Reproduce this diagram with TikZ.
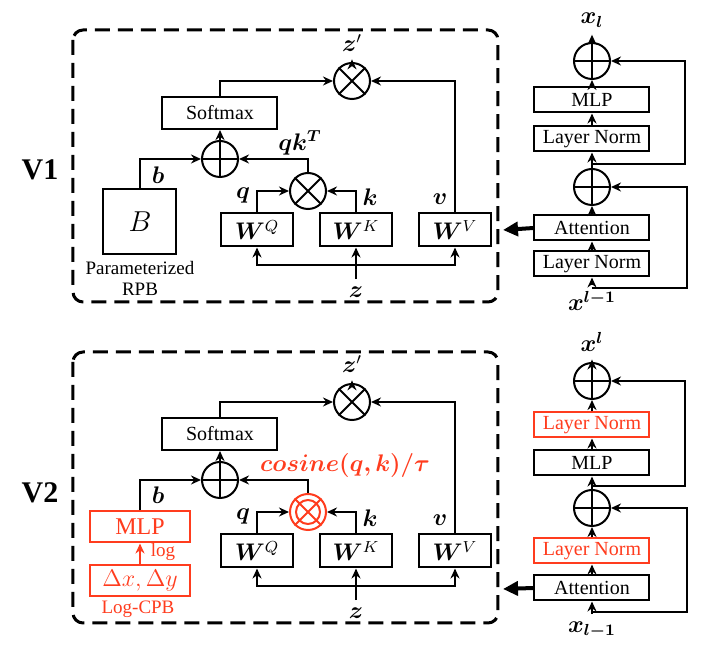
\documentclass[tikz,border=0pt]{standalone}
\usepackage{fontspec}
\setmainfont{Liberation Serif}
\usepackage{bm}
\usetikzlibrary{arrows.meta,calc}
\definecolor{rojoV}{HTML}{FF3C1E}

\begin{document}
\begin{tikzpicture}[x=0.5pt,y=-0.5pt,>={Stealth[length=5pt,width=4.5pt]},
    line width=0.9pt,
    frame/.style={line width=1.5pt,dash pattern=on 7.5pt off 4pt,rounded corners=5pt},
    blk/.style={draw,line width=1pt,inner sep=0pt,font=\fontsize{10}{12}\selectfont},
    colbox/.style={blk,minimum width=57.5pt,minimum height=12.5pt},
    wbox/.style={blk,minimum width=36pt,minimum height=16.5pt,font=\fontsize{12}{14}\selectfont},
    op/.style={draw,circle,line width=1pt,minimum size=18pt,inner sep=0pt},
    lab/.style={font=\fontsize{12}{14}\selectfont},
    note/.style={font=\fontsize{9.5}{10.5}\selectfont,align=center},
    tag/.style={font=\fontsize{15}{18}\selectfont\bfseries},
    fat/.style={line width=2pt,-{Triangle[length=7.5pt,width=7pt]}}]
  \useasboundingbox (0,0) rectangle (720,652);

  % ---------- V1 ----------
  \draw[frame] (73,30) rectangle (498,302);
  \node[tag] (v1) at (40,170) {V1};
  \node[op] (mul1) at (352,81) {};
  \node[lab] (zout1) at (352,43) {$\bm{z}'$};
  \node[blk,minimum width=57.5pt,minimum height=16pt] (soft1) at (220,113) {Softmax};
  \node[op] (add1) at (220,159) {};
  \node[op] (qk1) at (308,191) {};
  \node[lab] (qkT1) at (300,143) {$\bm{q}\bm{k}^{\bm{T}}$};
  \node[blk,minimum width=36.5pt,minimum height=32.5pt,font=\fontsize{14}{16}\selectfont] (rpb1) at (140,222) {$B$};
  \node[note] (rpbname1) at (140,278) {Parameterized\\RPB};
  \node[wbox] (wq1) at (257,230) {$\bm{W}^{Q}$};
  \node[wbox] (wk1) at (356,230) {$\bm{W}^{K}$};
  \node[wbox] (wv1) at (455,230) {$\bm{W}^{V}$};
  \node[lab] (b1) at (158,175) {$\bm{b}$};
  \node[lab] (q1) at (243,196) {$\bm{q}$};
  \node[lab] (k1) at (370,197) {$\bm{k}$};
  \node[lab] (v1lab) at (440,199) {$\bm{v}$};
  \node[lab] (zin1) at (356,292) {$\bm{z}$};
  \coordinate (bus1) at (356,265);

  \draw[->] (mul1) -- (zout1);
  \draw[->] (soft1.north) |- (mul1.west);
  \draw[->] (wv1.north) |- (mul1.east);
  \draw[->] (add1) -- (soft1);
  \draw[->] (rpb1.north) |- (add1.west);
  \draw[->] (qk1.north) |- (add1.east);
  \draw[->] (wq1.north) |- (qk1.west);
  \draw[->] (wk1.north) |- (qk1.east);
  \draw[->] (zin1) -- (wk1);
  \draw[->] (bus1) -| (wq1.south);
  \draw[->] (bus1) -| (wv1.south);

  % block V1
  \node[colbox] (ln1a) at (592,264) {Layer Norm};
  \node[colbox] (attn1) at (592,228) {Attention};
  \node[op] (res1) at (592,187) {};
  \node[colbox] (ln1b) at (592,139) {Layer Norm};
  \node[colbox] (mlp1) at (592,100) {MLP};
  \node[op] (res2) at (592,61) {};
  \node[lab] (xout1) at (592,20) {$\bm{x_l}$};
  \node[lab] (xin1) at (592,301) {$\bm{x^{l-1}}$};
  \coordinate (skip1) at (592,288);
  \coordinate (skip2) at (592,164);
  \coordinate (tip1) at (503,230);

  \draw[->] (xin1) -- (ln1a);
  \draw[->] (ln1a) -- (attn1);
  \draw[->] (attn1) -- (res1);
  \draw[->] (res1) -- (ln1b);
  \draw[->] (ln1b) -- (mlp1);
  \draw[->] (mlp1) -- (res2);
  \draw[->] (res2) -- (xout1);
  \draw[->] (skip1) -- ++(95,0) |- (res1.east);
  \draw[->] (skip2) -- ++(93,0) |- (res2.east);
  \draw[fat] (attn1.west) -- (tip1);

  % ---------- V2 ----------
  \draw[frame] (73,352) rectangle (498,623);
  \node[tag] (v2) at (40,493) {V2};
  \node[op] (mul2) at (352,402) {};
  \node[lab] (zout2) at (352,364) {$\bm{z}'$};
  \node[blk,minimum width=57.5pt,minimum height=16pt] (soft2) at (220,434) {Softmax};
  \node[op] (add2) at (220,480) {};
  \node[op,draw=rojoV] (qk2) at (308,512) {};
  \node[lab,text=rojoV] (cos2) at (345,466) {$\bm{cosine(q,k)/\tau}$};
  \node[blk,draw=rojoV,text=rojoV,minimum width=50pt,minimum height=15.5pt,font=\fontsize{12}{14}\selectfont] (mlpl2) at (140,527) {MLP};
  \node[blk,draw=rojoV,text=rojoV,minimum width=50pt,minimum height=15.5pt,font=\fontsize{13}{15}\selectfont] (delta2) at (140,581) {$\Delta x,\Delta y$};
  \node[note,text=rojoV,anchor=west,inner sep=0pt] (log2) at (150,552) {log};
  \node[note,text=rojoV] (cpb2) at (138,609) {Log-CPB};
  \node[wbox] (wq2) at (257,551) {$\bm{W}^{Q}$};
  \node[wbox] (wk2) at (356,551) {$\bm{W}^{K}$};
  \node[wbox] (wv2) at (455,551) {$\bm{W}^{V}$};
  \node[lab] (b2) at (158,495) {$\bm{b}$};
  \node[lab] (q2) at (243,517) {$\bm{q}$};
  \node[lab] (k2) at (370,518) {$\bm{k}$};
  \node[lab] (v2lab) at (440,520) {$\bm{v}$};
  \node[lab] (zin2) at (356,613) {$\bm{z}$};
  \coordinate (bus2) at (356,586);

  \draw[->] (mul2) -- (zout2);
  \draw[->] (soft2.north) |- (mul2.west);
  \draw[->] (wv2.north) |- (mul2.east);
  \draw[->] (add2) -- (soft2);
  \draw[->] (mlpl2.north) |- (add2.west);
  \draw[->,rojoV] (delta2) -- (mlpl2);
  \draw[->] (qk2.north) |- (add2.east);
  \draw[->] (wq2.north) |- (qk2.west);
  \draw[->] (wk2.north) |- (qk2.east);
  \draw[->] (zin2) -- (wk2);
  \draw[->] (bus2) -| (wq2.south);
  \draw[->] (bus2) -| (wv2.south);

  % block V2
  \node[colbox] (attn2) at (592,588) {Attention};
  \node[colbox,draw=rojoV,text=rojoV] (ln2a) at (592,551) {Layer Norm};
  \node[op] (res3) at (592,508) {};
  \node[colbox] (mlp2) at (592,463) {MLP};
  \node[colbox,draw=rojoV,text=rojoV] (ln2b) at (592,425) {Layer Norm};
  \node[op] (res4) at (592,381) {};
  \node[lab] (xout2) at (592,342) {$\bm{x^l}$};
  \node[lab] (xin2) at (592,630) {$\bm{x_{l-1}}$};
  \coordinate (skip3) at (592,612);
  \coordinate (skip4) at (592,486);
  \coordinate (tip2) at (503,589);

  \draw[->] (xin2) -- (attn2);
  \draw[->] (attn2) -- (ln2a);
  \draw[->] (ln2a) -- (res3);
  \draw[->] (res3) -- (mlp2);
  \draw[->] (mlp2) -- (ln2b);
  \draw[->] (ln2b) -- (res4);
  \draw[->] (res4) -- (xout2);
  \draw[->] (skip3) -- ++(95,0) |- (res3.east);
  \draw[->] (skip4) -- ++(93,0) |- (res4.east);
  \draw[fat] (attn2.west) -- (tip2);

  % operator marks
  \foreach \n in {add1,add2,res1,res2,res3,res4}
    \draw[line width=1pt] (\n.north) -- (\n.south) (\n.east) -- (\n.west);
  \foreach \n in {mul1,qk1,mul2}
    \draw[line width=1pt] (\n.north east) -- (\n.south west) (\n.north west) -- (\n.south east);
  \draw[rojoV,line width=1pt] (qk2.north east) -- (qk2.south west)
    (qk2.north west) -- (qk2.south east) (qk2.center) circle (6pt);
\end{tikzpicture}
\end{document}
